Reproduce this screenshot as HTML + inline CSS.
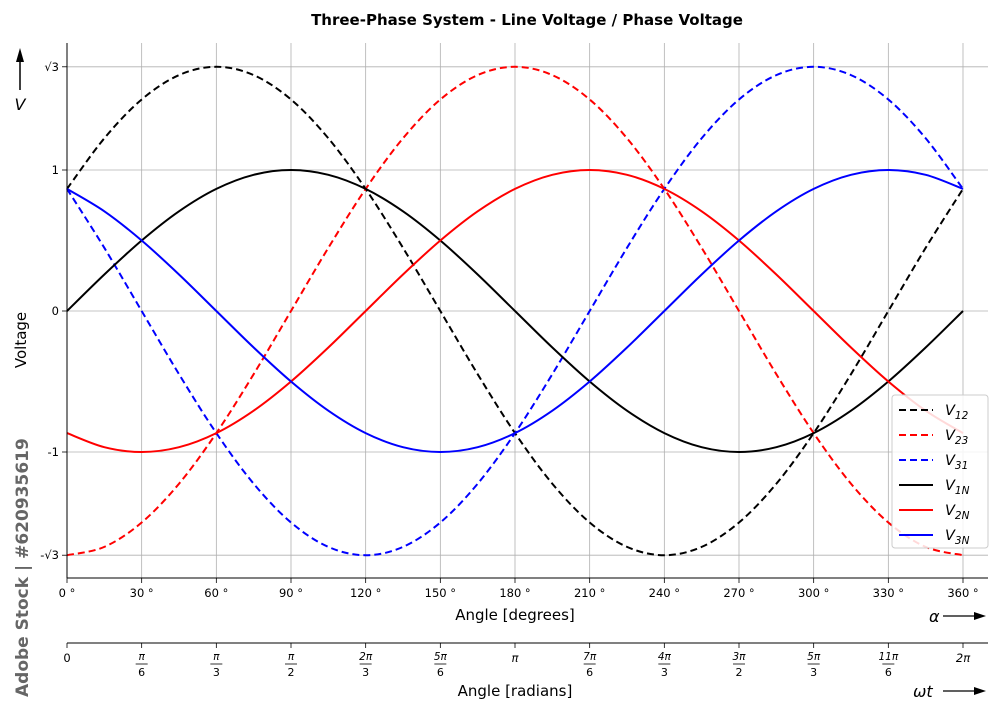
<!DOCTYPE html>
<html><head><meta charset="utf-8">
<style>
html,body{margin:0;padding:0;background:#fff;}
svg{display:block;font-family:"DejaVu Sans","Liberation Sans",sans-serif;}
</style></head>
<body>
<svg id="chart" width="1000" height="712" viewBox="0 0 1000 712">
  <text x="527" y="25" text-anchor="middle" font-size="15" font-weight="bold">Three-Phase System - Line Voltage / Phase Voltage</text>
  <g id="grid"></g>
  <g id="series"></g>
  <g id="axes"></g>
  <text x="26" y="340" transform="rotate(-90 26 340)" text-anchor="middle" font-size="15">Voltage</text>
  <line x1="20" y1="90" x2="20" y2="60" stroke="#000" stroke-width="1.5"/>
  <polygon points="20,48 16,62 24,62" fill="#000"/>
  <text x="20" y="110" text-anchor="middle" font-size="16" font-style="italic">V</text>
  <text x="515" y="620" text-anchor="middle" font-size="15">Angle [degrees]</text>
  <text x="929" y="622" font-size="16" font-style="italic">α</text>
  <line x1="943" y1="616" x2="975" y2="616" stroke="#000" stroke-width="1.3"/>
  <polygon points="986,616 974,612 974,620" fill="#000"/>
  <text x="515" y="696" text-anchor="middle" font-size="15">Angle [radians]</text>
  <text x="913" y="697" font-size="16" font-style="italic">ωt</text>
  <line x1="943" y1="691" x2="975" y2="691" stroke="#000" stroke-width="1.3"/>
  <polygon points="986,691 974,687 974,695" fill="#000"/>
  <text x="28" y="697" transform="rotate(-90 28 697)" font-size="17" font-weight="bold" fill="#666">Adobe Stock | #620935619</text>
  <g id="legend"></g>
</svg>
<script>
const angles = [0,15,30,45,60,75,90,105,120,135,150,165,180,195,210,225,240,255,270,285,300,315,330,345,360];
const v12 = [0.866,1.225,1.5,1.673,1.732,1.673,1.5,1.225,0.866,0.448,0,-0.448,-0.866,-1.225,-1.5,-1.673,-1.732,-1.673,-1.5,-1.225,-0.866,-0.448,0,0.448,0.866];
const v23 = [-1.732,-1.673,-1.5,-1.225,-0.866,-0.448,0,0.448,0.866,1.225,1.5,1.673,1.732,1.673,1.5,1.225,0.866,0.448,0,-0.448,-0.866,-1.225,-1.5,-1.673,-1.732];
const v31 = [0.866,0.448,0,-0.448,-0.866,-1.225,-1.5,-1.673,-1.732,-1.673,-1.5,-1.225,-0.866,-0.448,0,0.448,0.866,1.225,1.5,1.673,1.732,1.673,1.5,1.225,0.866];
const v1n = [0,0.259,0.5,0.707,0.866,0.966,1,0.966,0.866,0.707,0.5,0.259,0,-0.259,-0.5,-0.707,-0.866,-0.966,-1,-0.966,-0.866,-0.707,-0.5,-0.259,0];
const v2n = [-0.866,-0.966,-1,-0.966,-0.866,-0.707,-0.5,-0.259,0,0.259,0.5,0.707,0.866,0.966,1,0.966,0.866,0.707,0.5,0.259,0,-0.259,-0.5,-0.707,-0.866];
const v3n = [0.866,0.707,0.5,0.259,0,-0.259,-0.5,-0.707,-0.866,-0.966,-1,-0.966,-0.866,-0.707,-0.5,-0.259,0,0.259,0.5,0.707,0.866,0.966,1,0.966,0.866];
const xTicks = [0,30,60,90,120,150,180,210,240,270,300,330,360];
const xTickLabels = ["0 °","30 °","60 °","90 °","120 °","150 °","180 °","210 °","240 °","270 °","300 °","330 °","360 °"];
const radNum = ["0","π","π","π","2π","5π","π","7π","4π","3π","5π","11π","2π"];
const radDen = ["","6","3","2","3","6","","6","3","2","3","6",""];
const yTicks = [1.732,1,0,-1,-1.732];
const yTickLabels = ["√3","1","0","-1","-√3"];
const seriesNames = ["V12","V23","V31","V1N","V2N","V3N"];
const seriesSubs = ["12","23","31","1N","2N","3N"];

const NS="http://www.w3.org/2000/svg";
const X0=67,X1=963,Y0=311,YU=141;
const xs=a=>X0+(X1-X0)*a/360;
const ys=v=>Y0-v*YU;
function mk(tag,attrs,parent){const e=document.createElementNS(NS,tag);for(const k in attrs)e.setAttribute(k,attrs[k]);parent.appendChild(e);return e;}
const grid=document.getElementById('grid'),axes=document.getElementById('axes'),ser=document.getElementById('series'),leg=document.getElementById('legend');

xTicks.forEach((t,i)=>{
  const g=mk('line',{x1:xs(t),x2:xs(t),y1:43,y2:578,stroke:'#b0b0b0','stroke-width':0.8},grid);
  
  
  const tk=mk('line',{x1:xs(t),x2:xs(t),y1:578,y2:583,stroke:'#000','stroke-width':0.8},axes);
  
  
  const tl=mk('text',{x:xs(t),y:597,'text-anchor':'middle','font-size':11.5},axes);
  tl.textContent=xTickLabels[i];
  
  
  const rt=mk('line',{x1:xs(t),x2:xs(t),y1:643,y2:648,stroke:'#000','stroke-width':0.8},axes);
  
  
  if(radDen[i]===""){
    const r=mk('text',{x:xs(t),y:662,'text-anchor':'middle','font-size':11.5,'font-style':radNum[i]==="0"?'normal':'italic'},axes);
    r.textContent=radNum[i];
    
    
  } else {
    const r=mk('text',{x:xs(t),y:660,'text-anchor':'middle','font-size':10.5,'font-style':'italic'},axes);
    r.textContent=radNum[i];
    
    
    const ln=mk('line',{x1:xs(t)-6,x2:xs(t)+6,y1:664,y2:664,stroke:'#000','stroke-width':0.8},axes);
    
    
    const d=mk('text',{x:xs(t),y:676,'text-anchor':'middle','font-size':11},axes);
    d.textContent=radDen[i];
    
    
  }
});
yTicks.forEach((v,i)=>{
  const g=mk('line',{x1:X0,x2:988,y1:ys(v),y2:ys(v),stroke:'#b0b0b0','stroke-width':0.8},grid);
  
  
  const tk=mk('line',{x1:X0-5,x2:X0,y1:ys(v),y2:ys(v),stroke:'#000','stroke-width':0.8},axes);
  
  
  const tl=mk('text',{x:X0-8,y:ys(v)+4,'text-anchor':'end','font-size':11.5},axes);
  tl.textContent=yTickLabels[i];
  
  
});
const sp1=mk('line',{x1:X0,x2:X0,y1:43,y2:578,stroke:'#000','stroke-width':1},axes);


const sp2=mk('line',{x1:X0,x2:988,y1:578,y2:578,stroke:'#000','stroke-width':1},axes);


const sp3=mk('line',{x1:X0,x2:988,y1:643,y2:643,stroke:'#000','stroke-width':1},axes);



function pathFor(vals){
  const P=angles.map((a,i)=>[xs(a),ys(vals[i])]);
  let d=`M${P[0][0]},${P[0][1]}`;
  for(let i=0;i<P.length-1;i++){
    const p0=P[Math.max(0,i-1)],p1=P[i],p2=P[i+1],p3=P[Math.min(P.length-1,i+2)];
    const c1=[p1[0]+(p2[0]-p0[0])/6,p1[1]+(p2[1]-p0[1])/6];
    const c2=[p2[0]-(p3[0]-p1[0])/6,p2[1]-(p3[1]-p1[1])/6];
    d+=` C${c1[0]},${c1[1]} ${c2[0]},${c2[1]} ${p2[0]},${p2[1]}`;
  }
  return d;
}
const allSeries=[v12,v23,v31,v1n,v2n,v3n];
const colors=['#000','#f00','#00f','#000','#f00','#00f'];
const dashed=[true,true,true,false,false,false];
allSeries.forEach((vals,i)=>{
  const p=mk('path',{d:pathFor(vals),fill:'none',stroke:colors[i],'stroke-width':2,'stroke-dasharray':dashed[i]?'7,4':'none'},ser);
  
  
});

const box=mk('rect',{x:892,y:395,width:96,height:153,rx:3,fill:'#fff','fill-opacity':0.85,stroke:'#ccc'},leg);


seriesNames.forEach((n,i)=>{
  const y=410+i*25;
  const l=mk('line',{x1:899,x2:933,y1:y,y2:y,stroke:colors[i],'stroke-width':2,'stroke-dasharray':dashed[i]?'7,4':'none'},leg);
  
  
  const t=mk('text',{x:945,y:y+5,'font-size':14.5,'font-style':'italic'},leg);
  
  
  t.textContent='V';
  const s=mk('tspan',{'font-size':10.5,dy:4},t);
  s.textContent=seriesSubs[i];
});
</script>
</body></html>
